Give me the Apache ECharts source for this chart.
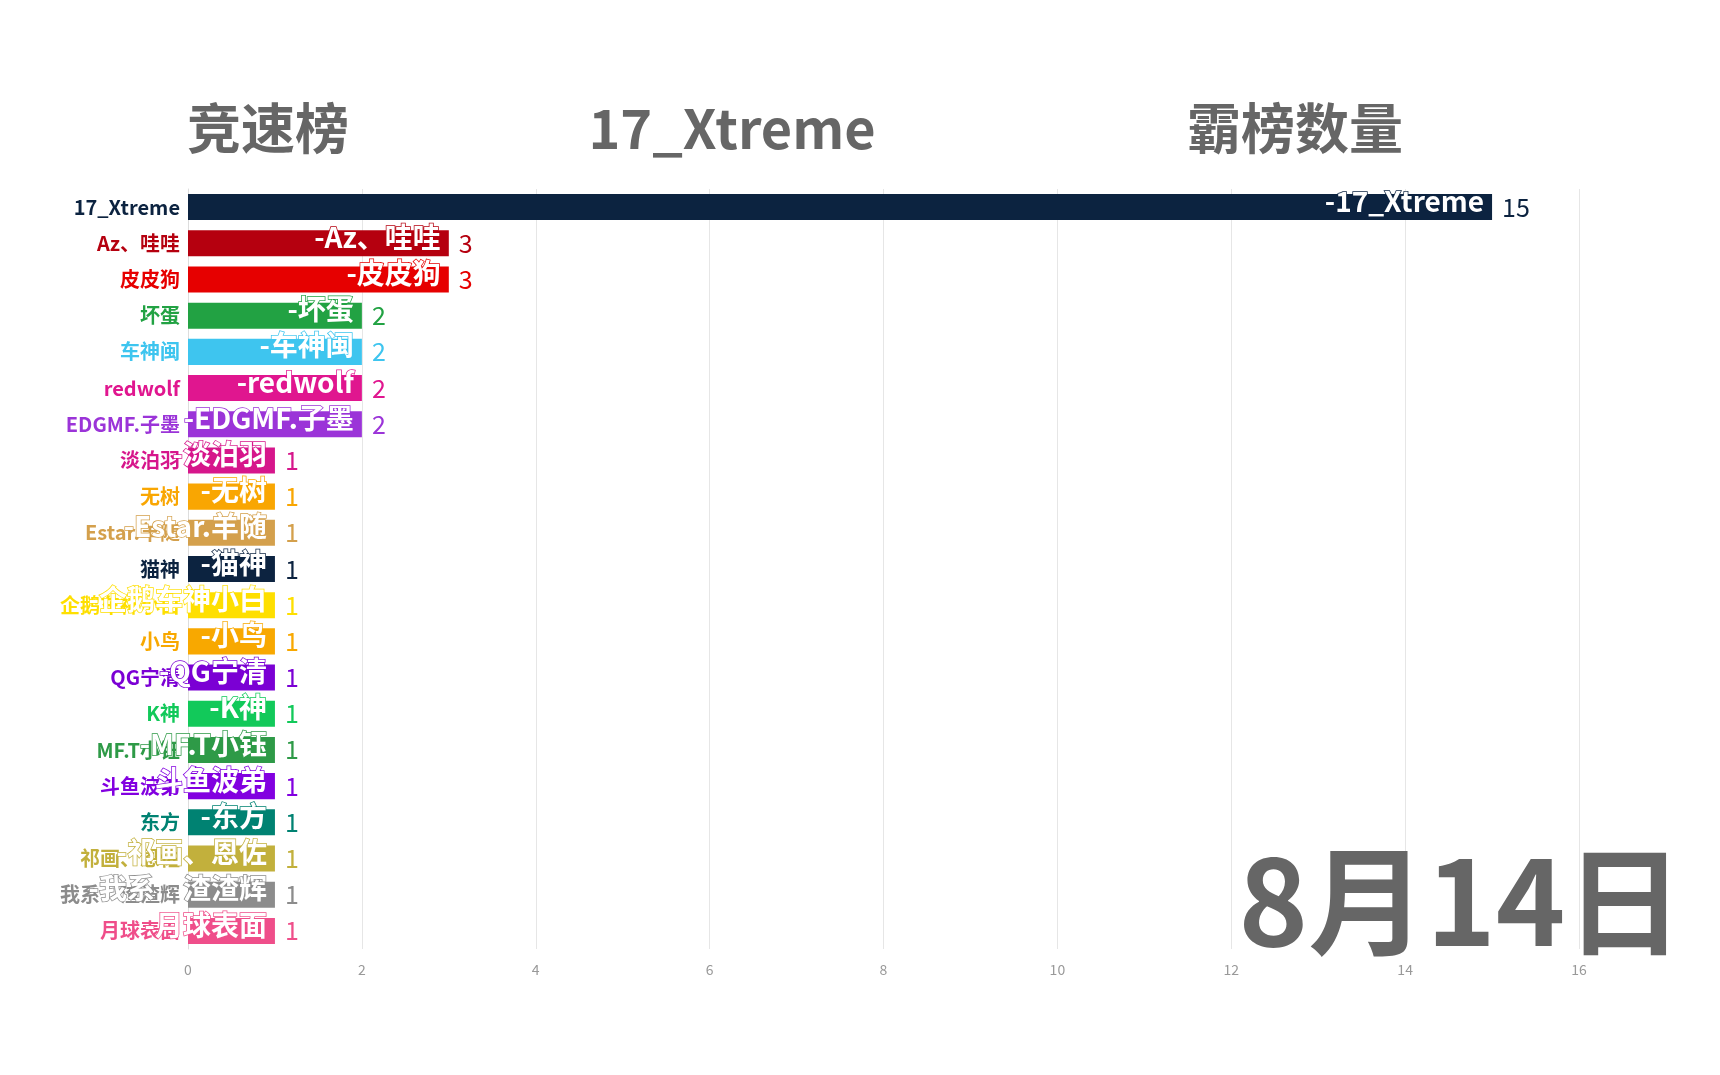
<!DOCTYPE html>
<html>
<head>
<meta charset="utf-8">
<script src="https://cdn.jsdelivr.net/npm/echarts@6/dist/echarts.min.js"></script>
<style>
html,body{margin:0;padding:0;background:#fff;}
#c{width:1720px;height:1075px;}
</style>
</head>
<body>
<div id="c"></div>
<script>
const names = ['17_Xtreme','Az、哇哇','皮皮狗','坏蛋','车神闽','redwolf','EDGMF.子墨','淡泊羽','无树','Estar.羊随','猫神','企鹅车神小白','小鸟','QG宁清','K神','MF.T小钰','斗鱼波弟','东方','祁画、恩佐','我系　渣渣辉','月球表面'];
const values = [15,3,3,2,2,2,2,1,1,1,1,1,1,1,1,1,1,1,1,1,1];
const colors = ['#0c2340','#b5000f','#e60000','#22a243','#3ec5ef','#e0168f','#9b34d8','#d6168b','#f9a602','#d4a04c','#0c2340','#fedf00','#f8a800','#7b00d4','#12c95a','#2e9a47','#8200e0','#008272','#c2b03c','#8c8c8c','#ef4e8a'];
const headers = ['竞速榜','17_Xtreme','霸榜数量'];
const dateText = '8月14日';
const axisMin = 0, axisMax = 16, axisStep = 2;

const FONT = '"Noto Sans CJK SC","Noto Sans",sans-serif';
const chart = echarts.init(document.getElementById('c'));

const barData = values.map((v,i)=>({
  value: v,
  itemStyle:{color: colors[i]},
  label:{textBorderColor: colors[i]}
}));
const valData = values.map((v,i)=>({
  value: v,
  label:{color: colors[i]}
}));

chart.setOption({
  backgroundColor:'#ffffff',
  animation:false,
  grid:{left:188,right:141,top:189,bottom:126,containLabel:false},
  xAxis:{
    type:'value', min:axisMin, max:axisMax, interval:axisStep,
    axisLine:{show:false}, axisTick:{show:false},
    axisLabel:{color:'#999',fontSize:14,fontFamily:FONT,margin:14},
    splitLine:{show:true,lineStyle:{color:'#e6e6e6',width:1}}
  },
  yAxis:{
    type:'category', data:names, inverse:true,
    axisLine:{show:true,lineStyle:{color:'#dddddd'}}, axisTick:{show:false},
    axisLabel:{
      fontSize:20, fontWeight:'bold', fontFamily:FONT, margin:8,
      color:(val,idx)=>colors[idx]
    }
  },
  graphic:[
    {type:'text',style:{text:headers[0],x:268,y:128,textAlign:'center',textVerticalAlign:'middle',fill:'#666',font:'bold 54px '+FONT}},
    {type:'text',style:{text:headers[1],x:732,y:128,textAlign:'center',textVerticalAlign:'middle',fill:'#666',font:'bold 54px '+FONT}},
    {type:'text',style:{text:headers[2],x:1295,y:128,textAlign:'center',textVerticalAlign:'middle',fill:'#666',font:'bold 54px '+FONT}},
    {type:'text',z:100,style:{text:dateText,x:1461,y:901,textAlign:'center',textVerticalAlign:'middle',fill:'#666',font:'bold 118px '+FONT}}
  ],
  series:[
    {
      type:'bar', data:barData, barWidth:'72%', z:2,
      label:{
        show:true, position:'insideRight', distance:8, offset:[0,-6],
        formatter:(p)=>'-'+names[p.dataIndex],
        color:'#fff', fontSize:28, fontWeight:'bold', fontFamily:FONT,
        textBorderWidth:1.5
      }
    },
    {
      type:'bar', data:valData, barWidth:'72%', barGap:'-100%', z:1,
      itemStyle:{color:'rgba(0,0,0,0)'},
      label:{
        show:true, position:'right', distance:10,
        fontSize:25, fontFamily:FONT,
        formatter:(p)=>String(p.value)
      }
    }
  ]
});
</script>
</body>
</html>
